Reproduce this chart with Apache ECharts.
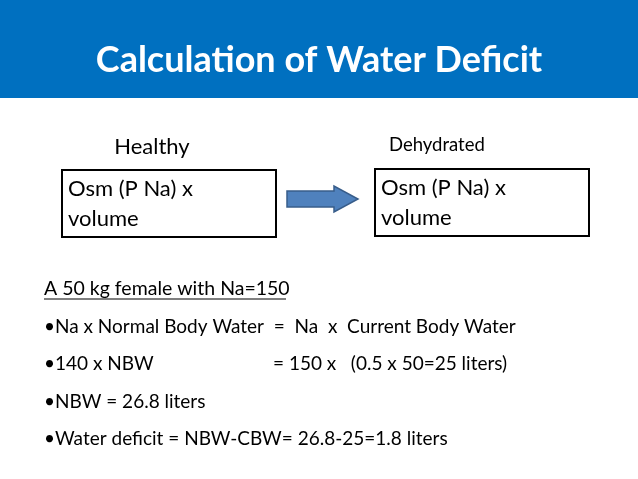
<!DOCTYPE html>
<html><head><meta charset="utf-8">
<script src="https://cdn.jsdelivr.net/npm/echarts@6/dist/echarts.min.js"></script>
<style>html,body{margin:0;padding:0;background:#fff}#c{width:638px;height:479px}</style>
</head><body><div id="c"></div>
<script>
const title = "Calculation of Water Deficit";
const stateLabels = ["Healthy", "Dehydrated"];
const boxLines = ["Osm (P Na) x", "volume"];
const exampleHeader = "A 50 kg female with Na=150";
const bulletLines = [
  ["•Na x Normal Body Water  =  Na  x  Current Body Water", ""],
  ["•140 x NBW", "= 150 x   (0.5 x 50=25 liters)"],
  ["•NBW = 26.8 liters", ""],
  ["•Water deficit = NBW-CBW= 26.8-25=1.8 liters", ""]
];
const F = "Lato, 'Open Sans', sans-serif";
const chart = echarts.init(document.getElementById('c'));
const g = [];
g.push({type:'rect',shape:{x:0,y:0,width:638,height:98},style:{fill:'#0070C0'}});
g.push({type:'text',x:319,y:60,style:{text:title,fill:'#fff',font:'bold 36px '+F,textAlign:'center',textVerticalAlign:'middle'}});
g.push({type:'text',x:152,y:147,style:{text:stateLabels[0],fill:'#000',font:'22px '+F,textAlign:'center',textVerticalAlign:'middle'}});
g.push({type:'text',x:389,y:145,style:{text:stateLabels[1],fill:'#000',font:'18.5px '+F,textVerticalAlign:'middle'}});
[[62,170],[375,169]].forEach(([x,y])=>{
  g.push({type:'rect',shape:{x:x,y:y,width:214,height:67},style:{fill:'#fff',stroke:'#000',lineWidth:2}});
  boxLines.forEach((t,i)=>g.push({type:'text',x:x+6,y:y+19+i*30,style:{text:t,fill:'#000',font:'22px '+F,textVerticalAlign:'middle'}}));
});
g.push({type:'polygon',shape:{points:[[287,191],[334,191],[334,186],[358,199],[334,212],[334,207],[287,207]]},style:{fill:'#4F81BD',stroke:'#385D8A',lineWidth:1.5}});
g.push({type:'text',x:44,y:289,style:{text:exampleHeader,fill:'#000',font:'19.5px '+F,textVerticalAlign:'middle'}});
g.push({type:'line',shape:{x1:44,y1:299,x2:286,y2:299},style:{stroke:'#000',lineWidth:1}});
const ys=[327,364,402,439];
bulletLines.forEach((b,i)=>{
  g.push({type:'text',x:44,y:ys[i],style:{text:b[0],fill:'#000',font:'19px '+F,textVerticalAlign:'middle'}});
  if(b[1]) g.push({type:'text',x:273,y:ys[i],style:{text:b[1],fill:'#000',font:'19px '+F,textVerticalAlign:'middle'}});
});
chart.setOption({graphic:{elements:g}});
</script></body></html>
